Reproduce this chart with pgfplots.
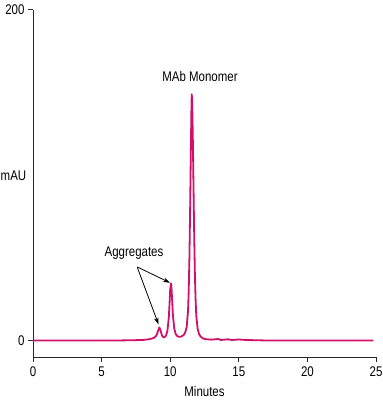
\documentclass[border=0pt]{standalone}
\usepackage{fontspec}
\setmainfont{Liberation Sans}[FakeStretch=0.82]
\usepackage{pgfplots}
\pgfplotsset{compat=1.18}
\usetikzlibrary{arrows.meta}
\definecolor{trace}{RGB}{208,16,106}
\definecolor{axisgray}{RGB}{40,40,40}
\begin{document}
\begin{tikzpicture}[font=\fontsize{14bp}{16bp}\selectfont]
\useasboundingbox (-33bp,-43bp) rectangle (350bp,357bp);
\begin{axis}[
  scale only axis,
  width=343bp, height=347bp,
  xmin=0, xmax=25, ymin=-10, ymax=200,
  axis x line*=bottom, axis y line*=left,
  axis line style={axisgray, line width=1bp},
  tick style={axisgray, line width=1bp},
  tick align=outside,
  major tick length=5bp,
  xtick={0,5,10,15,20,25},
  ytick={0,200},
  /pgf/number format/assume math mode=true,
  xticklabel style={yshift=-1bp},
  clip=false,
]
\addplot[trace, line width=1.8bp, line join=round] coordinates {
(0,0) (2,0) (4,0) (6,0) (7,0.1) (8,0.3) (8.5,0.8) (8.8,1.5) (9.0,3) (9.1,5.5) (9.21,7.9)
(9.3,6) (9.4,3) (9.5,2) (9.55,1.8) (9.7,3) (9.8,6) (9.9,14) (9.95,22) (10.0,31) (10.06,34.5)
(10.1,31) (10.15,23) (10.2,15) (10.3,7) (10.4,4) (10.5,2.8) (10.6,2.3) (10.76,2.3) (10.9,2.8)
(11.0,3.5) (11.1,5) (11.2,8) (11.3,18) (11.35,30) (11.4,50) (11.45,78) (11.5,112) (11.55,142)
(11.57,149) (11.6,145) (11.65,122) (11.7,92) (11.75,63) (11.8,40) (11.85,25) (11.9,15)
(12.0,7) (12.1,4) (12.2,2.5) (12.4,1.2) (12.6,0.8) (13.0,0.5) (13.5,0.9) (13.7,0.3) (14.2,0.7)
(14.5,0.3) (15.0,0.6) (15.5,0.3) (17,0) (20,0) (24.8,0)
};
\node[anchor=base west, inner sep=0pt] at ([xshift=-32.5bp]axis cs:0,96.7) {mAU};
\node[anchor=base] at ([yshift=-39bp]axis cs:12.5,-10) {Minutes};
\node at (axis cs:12.17,159.5) {MAb Monomer};
\node at (axis cs:7.36,52.6) {Aggregates};
\draw[black, line width=0.8bp, -{Stealth[length=7bp,width=4.5bp]}] (axis cs:7.6,44.5) -- (axis cs:9.99,34.9);
\draw[black, line width=0.8bp, -{Stealth[length=7bp,width=4.5bp]}] (axis cs:7.6,44.3) -- (axis cs:9.15,9.7);
\end{axis}
\end{tikzpicture}
\end{document}
